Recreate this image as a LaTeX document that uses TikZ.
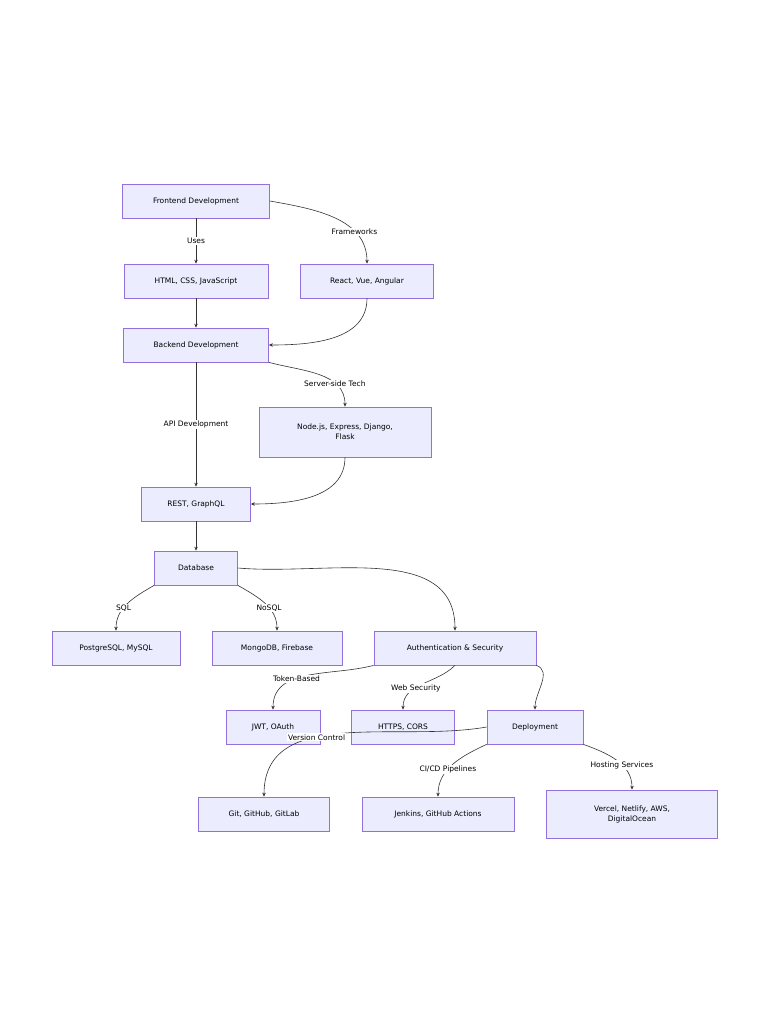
\documentclass[tikz,border=0pt]{standalone}
\usepackage{fontspec}
\setmainfont{DejaVu Sans}
\usetikzlibrary{arrows.meta}
\definecolor{nfill}{HTML}{ECECFF}
\definecolor{nbord}{HTML}{9370DB}
\definecolor{edge}{HTML}{333333}
\begin{document}
\begin{tikzpicture}[x=1pt,y=-1pt,
  box/.style={draw=nbord,fill=nfill,line width=0.7pt,minimum height=34pt,font=\fontsize{7.5}{10}\selectfont,align=center,inner sep=2pt},
  lbl/.style={font=\fontsize{7.5}{10}\selectfont,fill=white,inner sep=1pt},
  ed/.style={draw=edge,line width=0.6pt,-{Stealth[length=4pt,width=3.5pt]}}]
\useasboundingbox (0,0) rectangle (768,1024);
\node[box,minimum width=147pt] (fe) at (196,201) {Frontend Development};
\node[box,minimum width=144pt] (html) at (196,281) {HTML, CSS, JavaScript};
\node[box,minimum width=133pt] (react) at (367,281) {React, Vue, Angular};
\node[box,minimum width=145pt] (be) at (196,345) {Backend Development};
\node[box,minimum width=172pt,minimum height=50pt] (node) at (345,432) {Node.js, Express, Django,\\Flask};
\node[box,minimum width=109pt] (rest) at (196,504) {REST, GraphQL};
\node[box,minimum width=83pt] (db) at (196,568) {Database};
\node[box,minimum width=128pt] (pg) at (116,648) {PostgreSQL, MySQL};
\node[box,minimum width=130pt] (mongo) at (277,648) {MongoDB, Firebase};
\node[box,minimum width=162pt] (auth) at (455,648) {Authentication \& Security};
\node[box,minimum width=94pt] (jwt) at (273,727) {JWT, OAuth};
\node[box,minimum width=103pt] (https) at (403,727) {HTTPS, CORS};
\node[box,minimum width=96pt] (dep) at (535,727) {Deployment};
\node[box,minimum width=131pt] (git) at (264,814) {Git, GitHub, GitLab};
\node[box,minimum width=152pt] (jen) at (438,814) {Jenkins, GitHub Actions};
\node[box,minimum width=171pt,minimum height=48pt] (ver) at (632,814) {Vercel, Netlify, AWS,\\DigitalOcean};

\draw[ed] (fe) -- node[lbl]{Uses} (html);
\draw[ed] (fe.east) to[out=-10,in=90] node[lbl,pos=0.7]{Frameworks} (react.north);
\draw[ed] (html) -- (be);
\draw[ed] (react.south) to[out=-90,in=0] (be.east);
\draw[ed] (be.south east) to[out=-15,in=90] node[lbl,pos=0.7]{Server-side Tech} (node.north);
\draw[ed] (be) -- node[lbl]{API Development} (rest);
\draw[ed] (node.south) to[out=-90,in=0] (rest.east);
\draw[ed] (rest) -- (db);
\draw[ed] (db.south west) to[out=-150,in=90] node[lbl,pos=0.6]{SQL} (pg.north);
\draw[ed] (db.south east) to[out=-30,in=90] node[lbl,pos=0.6]{NoSQL} (mongo.north);
\draw[ed] (db.east) to[out=-5,in=90] (auth.north);
\draw[ed] (auth.south west) to[out=-165,in=90] node[lbl,pos=0.6]{Token-Based} (jwt.north);
\draw[ed] (auth.south) to[out=-135,in=90] node[lbl,pos=0.6]{Web Security} (https.north);
\draw[ed] (auth.south east) to[out=-20,in=90] (dep.north);
\draw[ed] (dep.west) to[out=-170,in=90] node[lbl,pos=0.6]{Version Control} (git.north);
\draw[ed] (dep.south west) to[out=-155,in=90] node[lbl,pos=0.6]{CI/CD Pipelines} (jen.north);
\draw[ed] (dep.south east) to[out=-20,in=90] node[lbl,pos=0.6]{Hosting Services} (ver.north);
\end{tikzpicture}
\end{document}
